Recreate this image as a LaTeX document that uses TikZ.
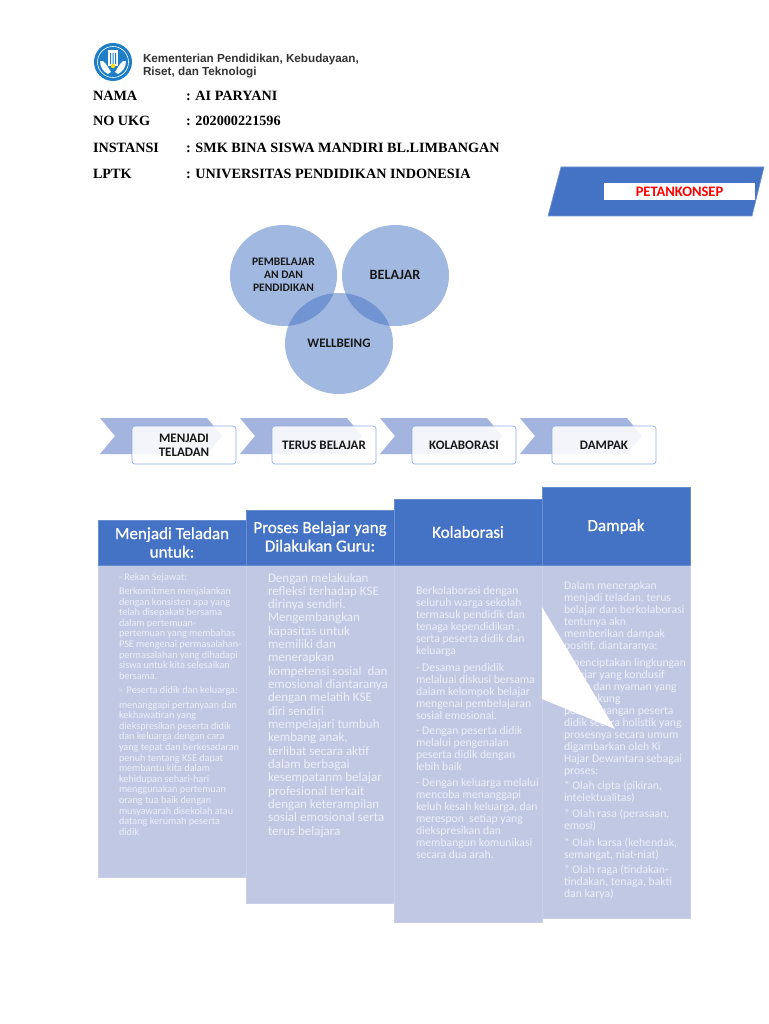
\documentclass[tikz,border=0pt]{standalone}
\usepackage{fontspec}
\setmainfont{Carlito}
\newfontfamily\serifhead{Liberation Serif}
\newfontfamily\sanshead{Liberation Sans}
\newfontfamily\headfont[RawFeature={embolden=0.7}]{Carlito}
\usetikzlibrary{calc}
\definecolor{hblue}{HTML}{4472C4}
\definecolor{bodyblue}{HTML}{C0C8E4}
\definecolor{chev}{HTML}{A3B4DE}
\definecolor{soft}{HTML}{EDF0F8}
\definecolor{logoblue}{HTML}{1E7FC8}
\definecolor{tabline}{HTML}{8EAFE6}
\tikzset{
  every node/.style={inner sep=0pt,outer sep=0pt},
  idtext/.style={anchor=base west,font=\serifhead\bfseries\fontsize{14.2}{18}\selectfont,text=black},
  logotext/.style={anchor=base west,font=\sanshead\bfseries\fontsize{11.7}{13}\selectfont,text=black!80},
  circ/.style={fill=hblue,fill opacity=.5,draw=none},
  circlabel/.style={font=\bfseries\fontsize{11.5}{13.2}\selectfont,align=center,text=black!90},
  chevron/.style={fill=chev,draw=none},
  tabbox/.style={draw=tabline,line width=.7pt,fill=white,fill opacity=.88,text opacity=1,rounded corners=3pt,minimum width=104pt,minimum height=38pt,align=center,font=\bfseries\fontsize{13}{14}\selectfont,text=black!90},
  headbox/.style={fill=hblue,draw=hblue!80!white,line width=.4pt},
  bodybox/.style={fill=bodyblue,draw=bodyblue!85!white,line width=.4pt},
  headtext/.style={font=\headfont\fontsize{17}{18.5}\selectfont,align=center,text=white},
  smalltext/.style={anchor=north west,align=left,text=soft,font=\fontsize{10.2}{10.6}\selectfont},
  midtext/.style={anchor=north west,align=left,text=soft,font=\fontsize{13}{13.32}\selectfont},
  bigtext/.style={anchor=north west,align=left,text=soft,font=\fontsize{11.7}{12}\selectfont},
}
\begin{document}
\begin{tikzpicture}[x=1pt,y=-1pt]
\useasboundingbox (0,0) rectangle (768,1024);
\fill[white] (0,0) rectangle (768,1024);

% logo
\fill[logoblue] (113,62) circle (19);
\draw[white,line width=.6pt] (113,62) circle (15.5);
\fill[white] (100,61) .. controls (104,59) and (107,66) .. (111,72) -- (108,74) .. controls (104,72) and (100,68) .. (100,61) -- cycle;
\fill[white] (126,61) .. controls (122,59) and (119,66) .. (115,72) -- (118,74) .. controls (122,72) and (126,68) .. (126,61) -- cycle;
\fill[white] (108,50) rectangle (118,66);
\fill[logoblue] (110,53) rectangle (111,64) (112.5,53) rectangle (113.5,64) (115,53) rectangle (116,64);
\fill[yellow!80!orange] (113,66) circle (2.2);
\node[logotext] (logoa) at (143,62.5) {Kementerian Pendidikan, Kebudayaan,};
\node[logotext] (logob) at (143,75.5) {Riset, dan Teknologi};

% identity
\node[idtext] (n1) at (93,100.5) {NAMA};
\node[idtext] (n1v) at (186,100.5) {: AI PARYANI};
\node[idtext] (n2) at (93,126) {NO UKG};
\node[idtext] (n2v) at (186,126) {: 202000221596};
\node[idtext] (n3) at (93,152.5) {INSTANSI};
\node[idtext] (n3v) at (186,152.5) {: SMK BINA SISWA MANDIRI BL.LIMBANGAN};
\node[idtext] (n4) at (93,179) {LPTK};
\node[idtext] (n4v) at (186,179) {: UNIVERSITAS PENDIDIKAN INDONESIA};

% banner
\fill[hblue,draw=hblue!75!white,line width=.6pt] (561,167) -- (764,167) -- (752,216) -- (548,216) -- cycle;
\node[fill=white,minimum width=151pt,minimum height=17pt,text=red,font=\bfseries\fontsize{14.5}{15}\selectfont,anchor=center] (petan) at (679.5,191.5) {PETANKONSEP};

% circles
\fill[circ] (283.5,275.5) ellipse (53.5 and 50.5);
\fill[circ] (395.5,275.5) ellipse (53.5 and 50.5);
\fill[circ] (339,343.5) ellipse (54 and 50.5);
\node[circlabel] (c1) at (283.5,275) {PEMBELAJAR\\AN DAN\\PENDIDIKAN};
\node[circlabel,font=\bfseries\fontsize{14.2}{15}\selectfont] (c2) at (395,275) {BELAJAR};
\node[circlabel,font=\bfseries\fontsize{13}{15}\selectfont] (c3) at (339,343) {WELLBEING};

% chevrons
\foreach \x in {0,140,280,420}{
  \fill[chevron] (100+\x,418) -- (207+\x,418) -- (222+\x,436) -- (207+\x,454) -- (100+\x,454) -- (115+\x,436) -- cycle;
}
\node[tabbox] (t1) at (184,445) {MENJADI\\TELADAN};
\node[tabbox] (t2) at (324,445) {TERUS BELAJAR};
\node[tabbox] (t3) at (464,445) {KOLABORASI};
\node[tabbox] (t4) at (604,445) {DAMPAK};

% columns
\fill[bodybox] (98,565) rectangle (246,877);
\fill[bodybox] (246,565) rectangle (394,903);
\fill[bodybox] (394,565) rectangle (542,922);
\fill[bodybox] (542,565) rectangle (690,918);
\filldraw[headbox] (98,520) rectangle (246,565);
\filldraw[headbox] (246,510) rectangle (394,565);
\filldraw[headbox] (394,499) rectangle (542,565);
\filldraw[headbox] (542,487) rectangle (690,565);
\node[headtext] (h1) at (172,542.5) {Menjadi Teladan\\untuk:};
\node[headtext] (h2) at (320,536.5) {Proses Belajar yang\\Dilakukan Guru:};
\node[headtext] (h3) at (468,532) {Kolaborasi};
\node[headtext] (h4) at (616,526.5) {Dampak};

% column 1
\node[smalltext] (a1) at (119,573.5) {- Rekan Sejawat:};
\node[smalltext] (a2) at (119,587.5) {Berkomitmen menjalankan\\dengan konsisten apa yang\\telah disepakati bersama\\dalam pertemuan-\\pertemuan yang membahas\\PSE mengenai permasalahan-\\permasalahan yang dihadapi\\siswa untuk kita selesaikan\\bersama.};
\node[smalltext] (a3) at (119,686.5) {-\ \ Peserta didik dan keluarga:};
\node[smalltext] (a4) at (119,701) {menanggapi pertanyaan dan\\kekhawatiran yang\\diekspresikan peserta didik\\dan keluarga dengan cara\\yang tepat dan berkesadaran\\penuh tentang KSE dapat\\membantu kita dalam\\kehidupan sehari-hari\\menggunakan pertemuan\\orang tua baik dengan\\musyawarah disekolah atau\\datang kerumah peserta\\didik};

% column 2
\node[midtext] (b1) at (268,573) {Dengan melakukan\\refleksi terhadap KSE\\dirinya sendiri.\\Mengembangkan\\kapasitas untuk\\memiliki dan\\menerapkan\\kompetensi sosial\ \ dan\\emosional diantaranya\\dengan melatih KSE\\diri sendiri\\mempelajari tumbuh\\kembang anak,\\terlibat secara aktif\\dalam berbagai\\kesempatanm belajar\\profesional terkait\\dengan keterampilan\\sosial emosional serta\\terus belajara};

% column 3
\node[bigtext] (d1) at (416,586) {Berkolaborasi dengan\\seluruh warga sekolah\\termasuk pendidik dan\\tenaga kependidikan ,\\serta peserta didik dan\\keluarga};
\node[bigtext] (d2) at (416,663) {- Desama pendidik\\melaluai diskusi bersama\\dalam kelompok belajar\\mengenai pembelajaran\\sosial emosional.};
\node[bigtext] (d3) at (416,726) {- Dengan peserta didik\\melalui pengenalan\\peserta didik dengan\\lebih baik};
\node[bigtext] (d4) at (416,778) {- Dengan keluarga melalui\\mencoba menanggapi\\keluh kesah keluarga, dan\\merespon\ \ setiap yang\\diekspresikan dan\\membangun komunikasi\\secara dua arah.};

% column 4
\node[bigtext] (e1) at (564,581) {Dalam menerapkan\\menjadi teladan, terus\\belajar dan berkolaborasi\\tentunya akn\\memberikan dampak\\positif, diantaranya:};
\node[bigtext] (e2) at (564,658) {- menciptakan lingkungan\\belajar yang kondusif\\aman dan nyaman yang\\mendukung\\perkembangan peserta\\didik secara holistik yang\\prosesnya secara umum\\digambarkan oleh Ki\\Hajar Dewantara sebagai\\proses:};
\node[bigtext] (e3) at (564,781) {* Olah cipta (pikiran,\\intelektualitas)};
\node[bigtext] (e4) at (564,809) {* Olah rasa (perasaan,\\emosi)};
\node[bigtext] (e5) at (564,838) {* Olah karsa (kehendak,\\semangat, niat-niat)};
\node[bigtext] (e6) at (564,865) {* Olah raga (tindakan-\\tindakan, tenaga, bakti\\dan karya)};

% white wedge
\fill[white] (542,607) -- (615,729) -- (542,699) -- cycle;
\end{tikzpicture}
\end{document}
